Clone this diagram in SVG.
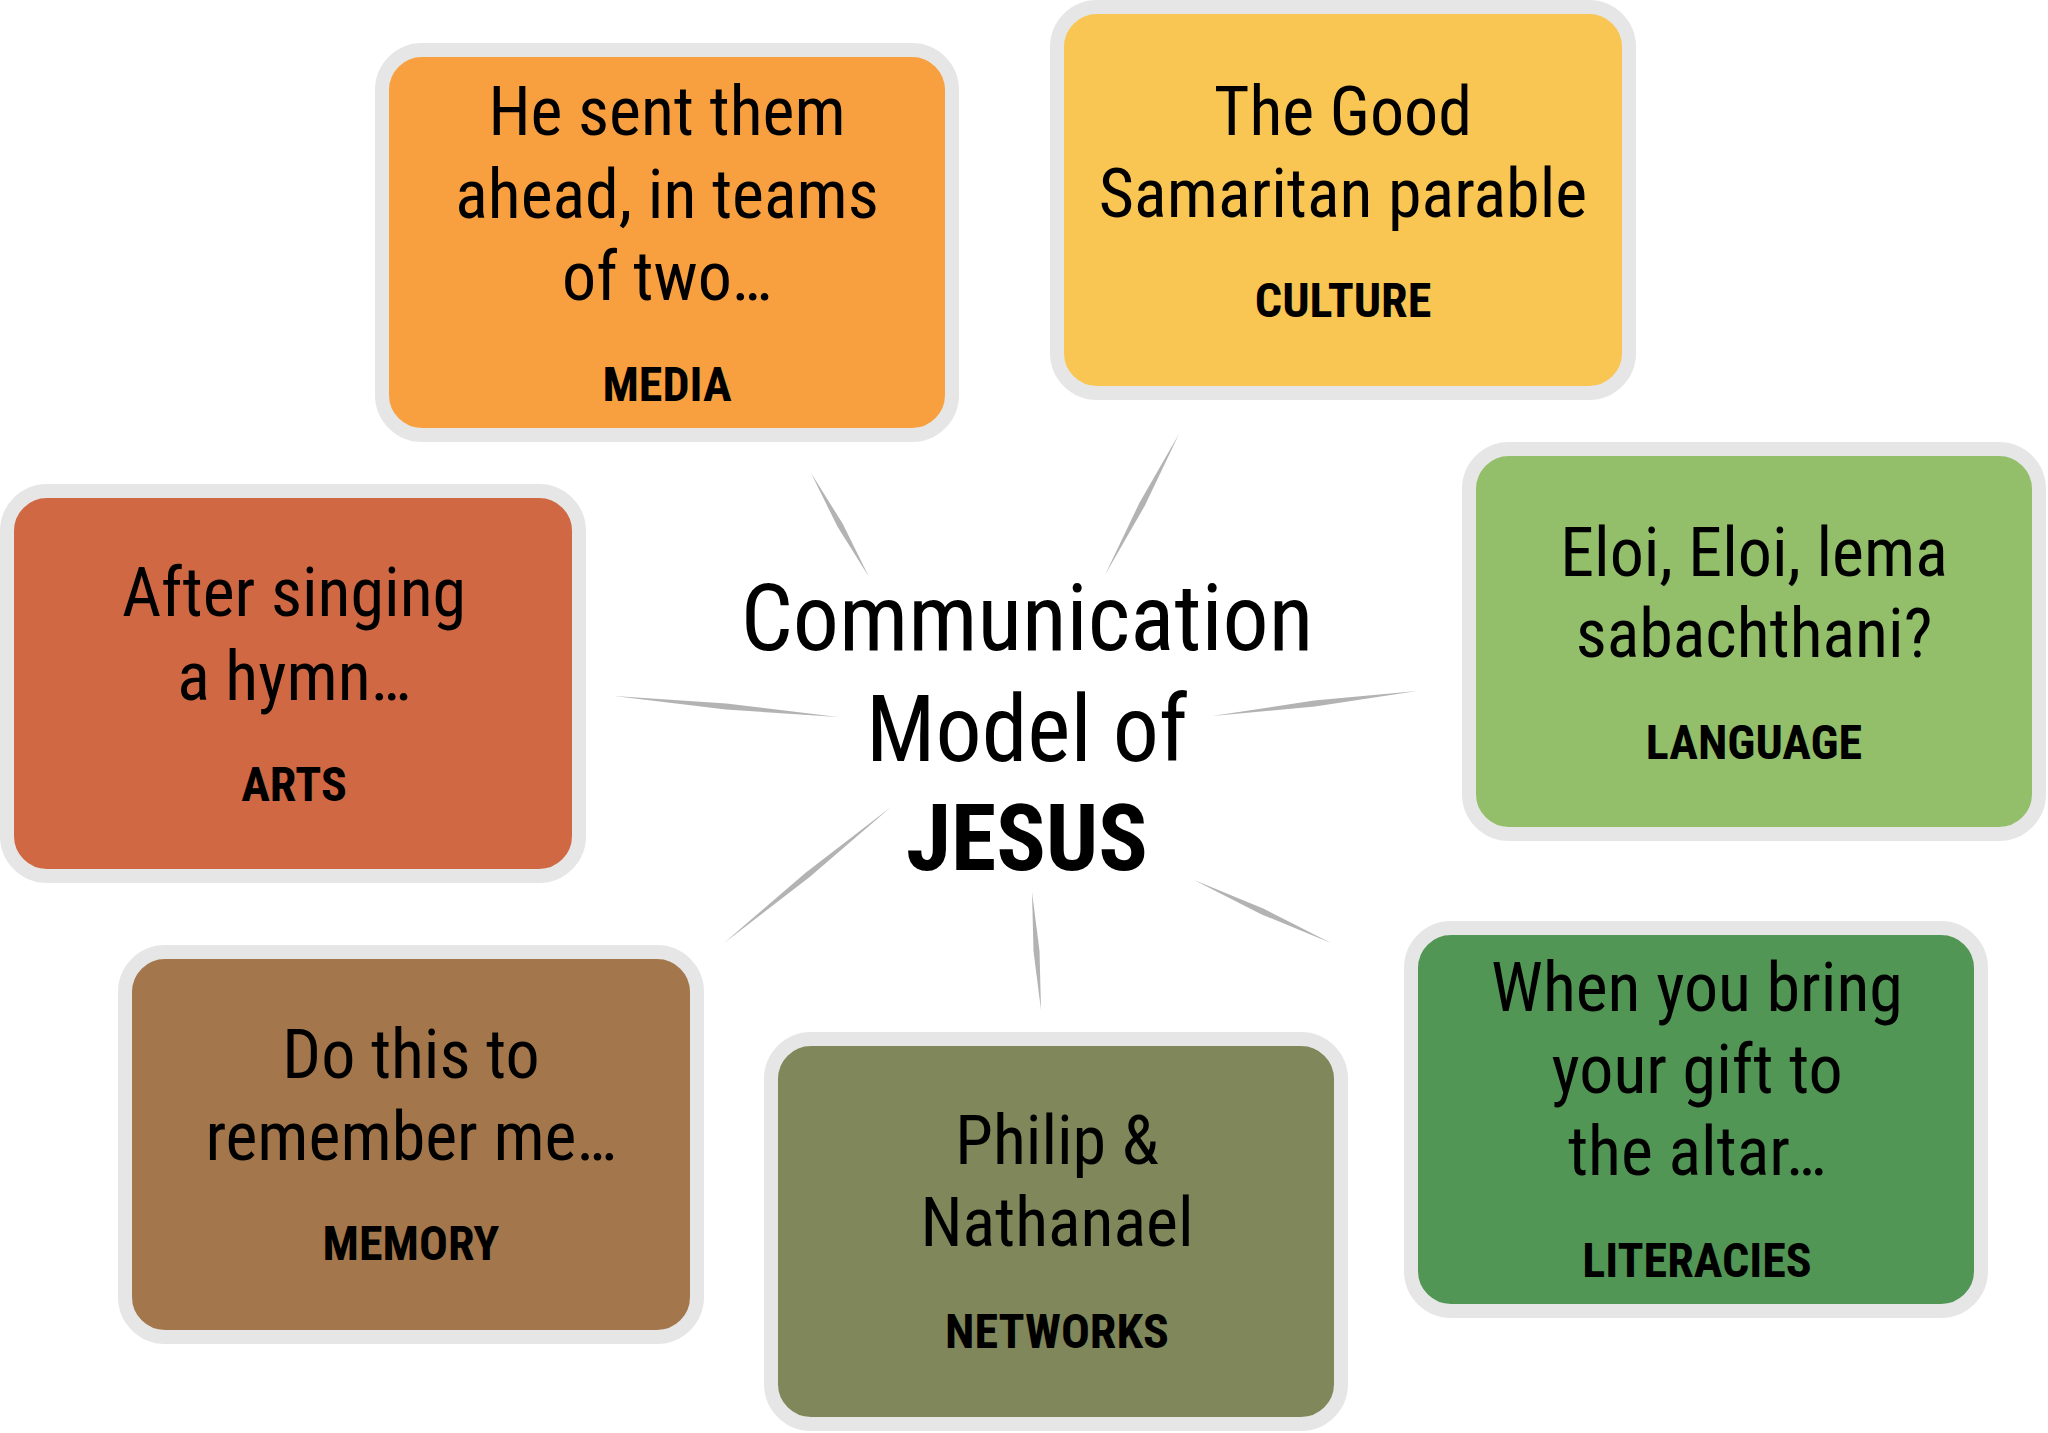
<svg xmlns="http://www.w3.org/2000/svg" width="2048" height="1433" viewBox="0 0 2048 1433">
<style>
.b{stroke:#e6e6e6;stroke-width:14}
.t{font-family:"Roboto Condensed","Liberation Sans Narrow","DejaVu Sans Condensed",sans-serif;font-stretch:condensed;font-size:68px;fill:#000;text-anchor:middle}
.l{font-family:"Roboto Condensed","Liberation Sans Narrow","DejaVu Sans Condensed",sans-serif;font-stretch:condensed;font-size:48px;font-weight:bold;fill:#000;text-anchor:middle}
.c{font-family:"Roboto Condensed","Liberation Sans Narrow","DejaVu Sans Condensed",sans-serif;font-stretch:condensed;font-size:92px;fill:#000;text-anchor:middle}
.r{fill:#b3b3b3}
</style>
<rect width="2048" height="1433" fill="#fff"/>
<g id="connectors">
<polygon class="r" points="811,473 837.4,526.5 869,577 842.6,523.5"/>
<polygon class="r" points="1179,434 1139.3,503.1 1105,575 1144.7,505.9"/>
<polygon class="r" points="614,696 725.7,709.5 838,717 726.3,703.5"/>
<polygon class="r" points="1212,716 1314.9,706.5 1417,691 1314.1,700.5"/>
<polygon class="r" points="891,807 805.6,872.7 724,943 809.4,877.3"/>
<polygon class="r" points="1032,892 1033.5,951.2 1041,1010 1039.5,950.8"/>
<polygon class="r" points="1194,880 1261.2,914.2 1331,943 1263.8,908.8"/>
</g>
<g id="center">
<text class="c" x="1027" y="650">Communication</text>
<text class="c" x="1027" y="761">Model of</text>
<text class="c" x="1027" y="870" font-weight="bold">JESUS</text>
</g>
<g id="media">
<rect class="b" x="382" y="50" width="570" height="385" rx="40" fill="#f8a040"/>
<text class="t" x="667" y="135">He sent them</text>
<text class="t" x="667" y="218">ahead, in teams</text>
<text class="t" x="667" y="300">of two…</text>
<text class="l" x="667" y="401">MEDIA</text>
</g>
<g id="culture">
<rect class="b" x="1057" y="7" width="572" height="386" rx="40" fill="#f9c553"/>
<text class="t" x="1343" y="135">The Good</text>
<text class="t" x="1343" y="217">Samaritan parable</text>
<text class="l" x="1343" y="317">CULTURE</text>
</g>
<g id="language">
<rect class="b" x="1469" y="449" width="570" height="385" rx="40" fill="#93bf6b"/>
<text class="t" x="1754" y="576">Eloi, Eloi, lema</text>
<text class="t" x="1754" y="657">sabachthani?</text>
<text class="l" x="1754" y="759">LANGUAGE</text>
</g>
<g id="arts">
<rect class="b" x="7" y="491" width="572" height="385" rx="40" fill="#cf6843"/>
<text class="t" x="294" y="616">After singing</text>
<text class="t" x="294" y="700">a hymn…</text>
<text class="l" x="294" y="801">ARTS</text>
</g>
<g id="memory">
<rect class="b" x="125" y="952" width="572" height="385" rx="40" fill="#a3774b"/>
<text class="t" x="411" y="1078">Do this to</text>
<text class="t" x="411" y="1160">remember me…</text>
<text class="l" x="411" y="1260">MEMORY</text>
</g>
<g id="networks">
<rect class="b" x="771" y="1039" width="570" height="385" rx="40" fill="#80875a"/>
<text class="t" x="1057" y="1164">Philip &amp;</text>
<text class="t" x="1057" y="1246">Nathanael</text>
<text class="l" x="1057" y="1348">NETWORKS</text>
</g>
<g id="literacies">
<rect class="b" x="1411" y="928" width="570" height="383" rx="40" fill="#529655"/>
<text class="t" x="1697" y="1011">When you bring</text>
<text class="t" x="1697" y="1093">your gift to</text>
<text class="t" x="1697" y="1175">the altar…</text>
<text class="l" x="1697" y="1277">LITERACIES</text>
</g>
</svg>
